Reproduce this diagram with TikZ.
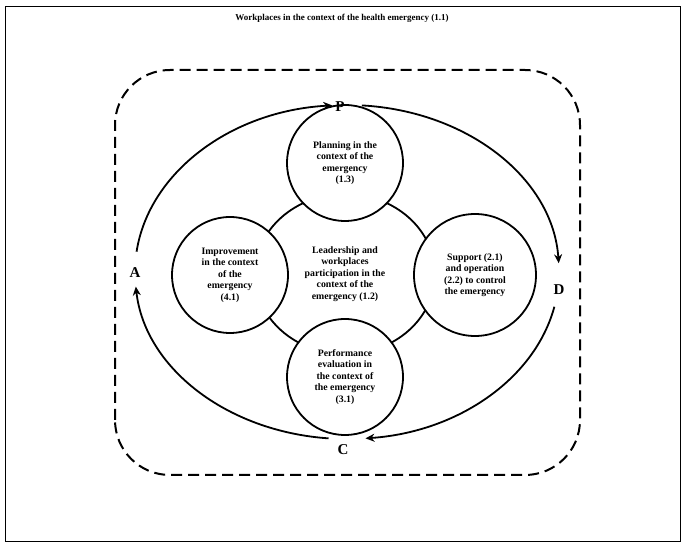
\documentclass[tikz,border=0pt]{standalone}
\usepackage{fontspec}
\setmainfont{Liberation Serif}
\usetikzlibrary{arrows.meta,shapes.geometric}
\begin{document}
\begin{tikzpicture}[x=1pt,y=1pt,
  circ/.style={circle,draw,fill=white,line width=1.8pt,minimum size=116pt,inner sep=0pt,align=center,font=\bfseries\fontsize{9.8}{11.5}\selectfont},
  lab/.style={font=\bfseries\fontsize{15}{17}\selectfont},
  arr/.style={line width=1.8pt,-{Stealth[length=9pt,width=8pt]}}]
\useasboundingbox (0,0) rectangle (685,546);
\draw[line width=0.6pt] (5,5) rectangle (680,540);
\node[font=\bfseries\fontsize{9}{10}\selectfont] (title) at (342,528) {Workplaces in the context of the health emergency (1.1)};
\draw[line width=2pt,dash pattern=on 11pt off 6pt,rounded corners=55pt] (115,71) rectangle (580,476);
\node[draw,ellipse,line width=1.8pt,minimum width=180pt,minimum height=160pt,align=center,inner sep=0pt,font=\bfseries\fontsize{9.8}{11.5}\selectfont] (ctr) at (345,272) {Leadership and\\workplaces\\participation in the\\context of the\\emergency (1.2)};
\node[circ] (plan) at (345,383) {Planning in the\\context of the\\emergency\\(1.3)};
\node[circ] (imp) at (230,271) {Improvement\\in the context\\of the\\emergency\\(4.1)};
\node[circ,minimum size=122pt] (sup) at (475,271) {Support (2.1)\\and operation\\(2.2) to control\\the emergency};
\node[circ] (perf) at (345,169) {Performance\\evaluation in\\the context of\\the emergency\\(3.1)};
\coordinate (O) at (347,274);
\node[lab] (P) at (340,439) {P};
\node[lab] (D) at (559,256) {D};
\node[lab] (C) at (343,96) {C};
\node[lab] (A) at (135,273) {A};
\draw[arr] ([shift={(86:212 and 167)}]O) arc[start angle=86,end angle=3,x radius=212,y radius=167];
\draw[arr] ([shift={(-12:212 and 167)}]O) arc[start angle=-12,end angle=-85,x radius=212,y radius=167];
\draw[arr] ([shift={(-95:212 and 167)}]O) arc[start angle=-95,end angle=-175,x radius=212,y radius=167];
\draw[arr] ([shift={(173:212 and 167)}]O) arc[start angle=173,end angle=94,x radius=212,y radius=167];
\end{tikzpicture}
\end{document}
